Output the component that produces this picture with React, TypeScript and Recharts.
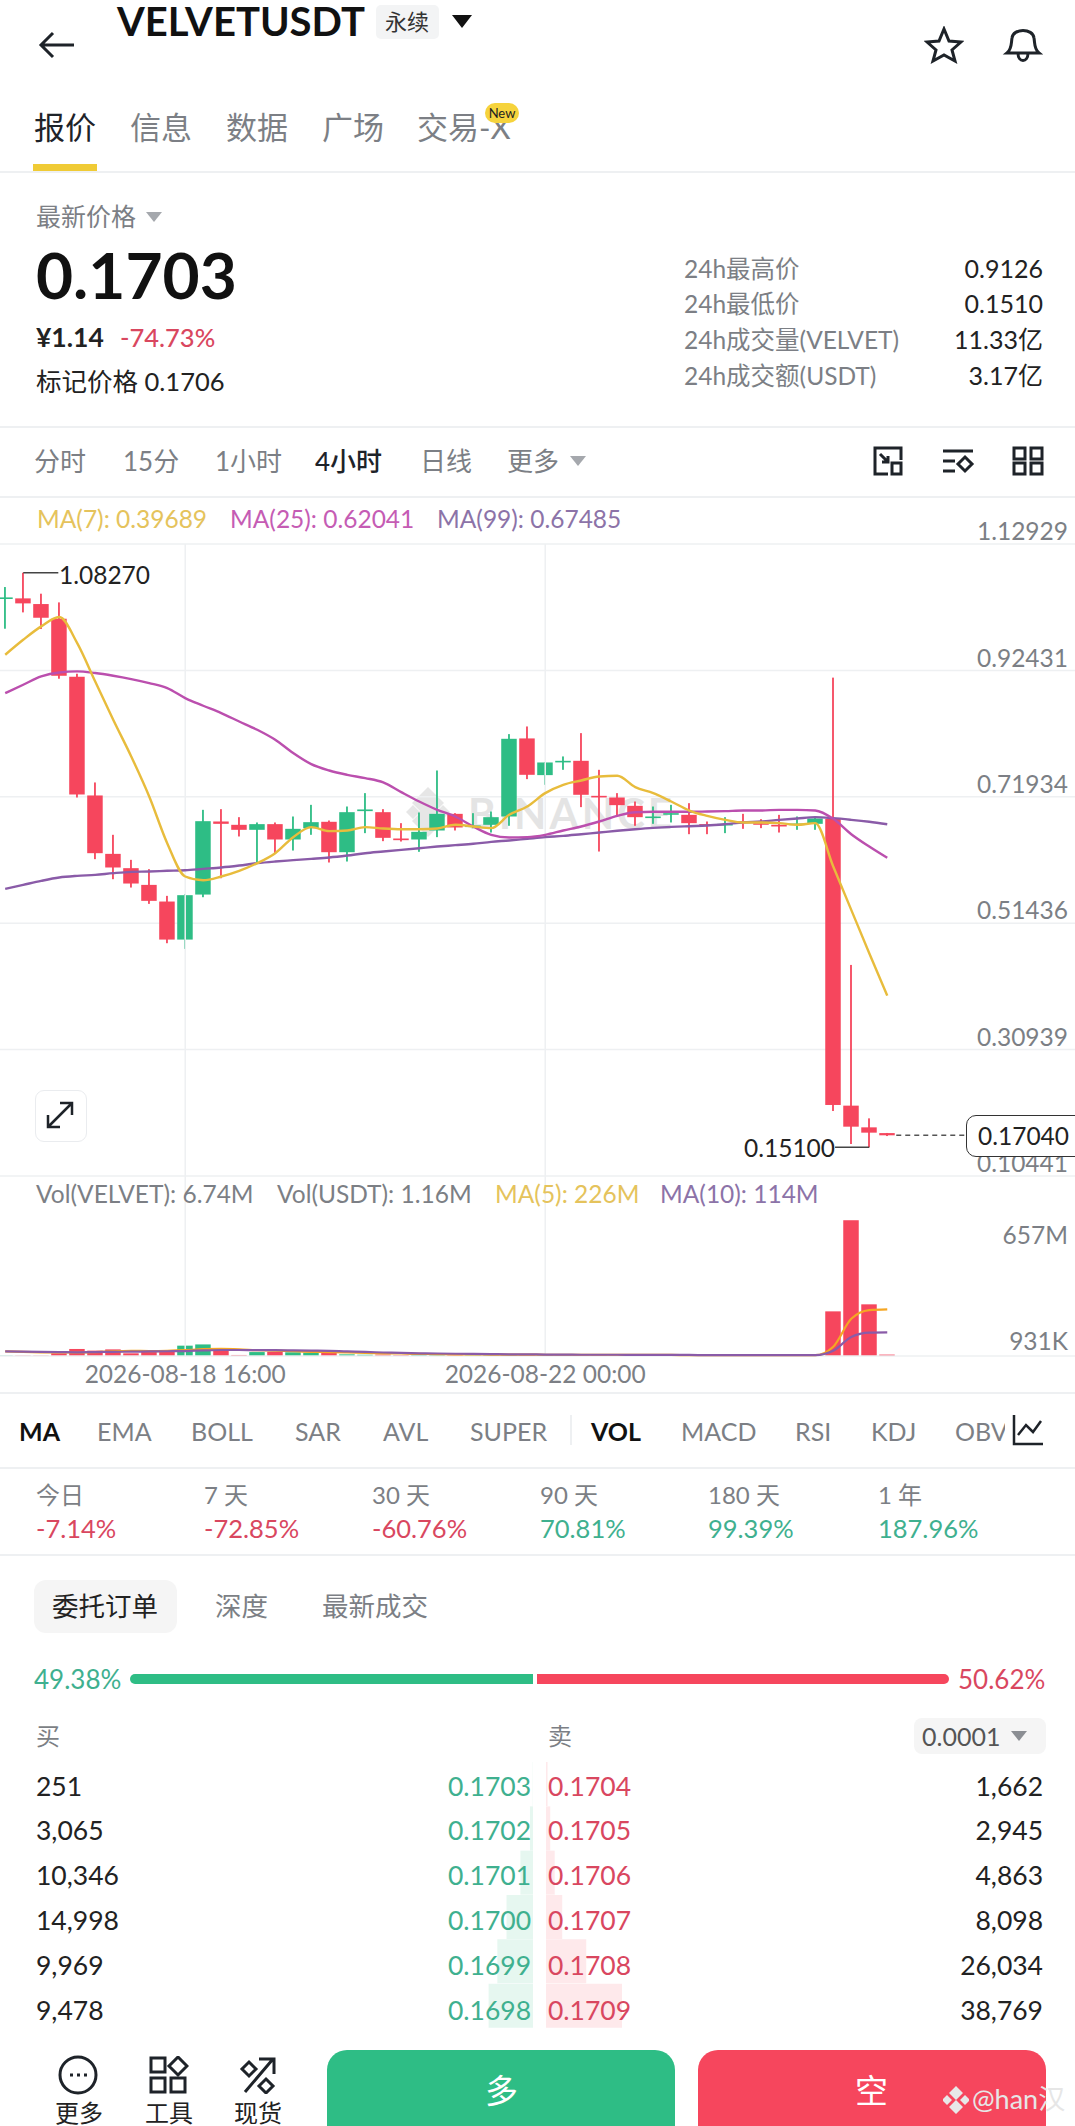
import type { CSSProperties, ReactNode } from "react";
import { Bar, BarChart, CartesianGrid, ComposedChart, Line, ReferenceLine, XAxis, YAxis } from "recharts";

const GREEN = "#2EBD85";
const RED = "#F6465D";
const GRID = "#EEF0F2";
const GREY = "#7c7f85";
const DARK = "#1e2329";
const FONT = 'Lato, "Noto Sans CJK SC", sans-serif';

const indices = Array.from({ length: 50 }, (_, i) => i);
const xDomain = [-0.289, 59.43];

const opens = [1.0411, 1.0411, 1.0319, 1.0081, 0.914, 0.7215, 0.6268, 0.6036, 0.5765, 0.5495, 0.4878, 0.5608, 0.6793, 0.6739, 0.6658, 0.675, 0.6501, 0.6685, 0.6788, 0.6295, 0.6961, 0.6944, 0.6517, 0.6501, 0.6647, 0.6917, 0.6712, 0.6739, 0.6874, 0.814, 0.7545, 0.7761, 0.7777, 0.7209, 0.7182, 0.7047, 0.6858, 0.6912, 0.6901, 0.675, 0.6728, 0.6793, 0.6766, 0.6739, 0.6744, 0.6755, 0.6836, 0.2185, 0.1833, 0.174];
const closes = [1.0427, 1.033, 1.0097, 0.9156, 0.7231, 0.6279, 0.6047, 0.5787, 0.5506, 0.4878, 0.5598, 0.6798, 0.6755, 0.6658, 0.675, 0.6501, 0.6674, 0.6782, 0.6295, 0.6944, 0.6988, 0.6528, 0.649, 0.6625, 0.6917, 0.6696, 0.6728, 0.6863, 0.8134, 0.755, 0.775, 0.7777, 0.7226, 0.7193, 0.7058, 0.6863, 0.6874, 0.6928, 0.6766, 0.6733, 0.6755, 0.6777, 0.675, 0.6712, 0.676, 0.6842, 0.2196, 0.1844, 0.1747, 0.1704];
const highs = [1.0595, 1.0827, 1.0487, 1.0346, 0.9189, 0.7426, 0.6577, 0.6171, 0.602, 0.5587, 0.5614, 0.6982, 0.6993, 0.6863, 0.6777, 0.6777, 0.6874, 0.7063, 0.6809, 0.7036, 0.7253, 0.6993, 0.6766, 0.6939, 0.762, 0.6928, 0.6928, 0.6955, 0.821, 0.8334, 0.7756, 0.7848, 0.8226, 0.7631, 0.7253, 0.7117, 0.7036, 0.7063, 0.709, 0.6793, 0.6863, 0.6917, 0.6831, 0.6901, 0.6874, 0.6874, 0.9126, 0.4467, 0.1979, 0.1742];
const lows = [0.9919, 1.0184, 0.9914, 0.9108, 0.7182, 0.6182, 0.5857, 0.5722, 0.5457, 0.4819, 0.4727, 0.5565, 0.5873, 0.655, 0.6117, 0.6279, 0.6322, 0.6577, 0.6128, 0.6144, 0.6604, 0.6474, 0.6468, 0.6301, 0.6539, 0.6647, 0.6685, 0.6614, 0.6723, 0.748, 0.7388, 0.7631, 0.7026, 0.6306, 0.6874, 0.6723, 0.6755, 0.6777, 0.6587, 0.6587, 0.6604, 0.6674, 0.6685, 0.6614, 0.6658, 0.6658, 0.2098, 0.1563, 0.151, 0.1692];

const ma7 = [0.9497, 0.974, 0.9957, 1.0108, 0.9686, 0.9064, 0.8443, 0.7848, 0.7199, 0.6441, 0.5901, 0.5841, 0.5901, 0.5993, 0.6117, 0.6279, 0.6539, 0.6701, 0.6636, 0.6647, 0.6701, 0.6679, 0.6668, 0.6668, 0.6679, 0.6739, 0.6712, 0.6685, 0.6901, 0.7036, 0.7253, 0.7388, 0.7458, 0.7523, 0.7534, 0.735, 0.7253, 0.7117, 0.6971, 0.6885, 0.682, 0.6777, 0.6777, 0.6766, 0.6739, 0.6766, 0.6063, 0.536, 0.4657, 0.39689];
const ma25 = [0.8875, 0.901, 0.9146, 0.921, 0.9227, 0.92, 0.9156, 0.9102, 0.9037, 0.8956, 0.8794, 0.867, 0.8551, 0.8415, 0.828, 0.8118, 0.7902, 0.7723, 0.762, 0.755, 0.7496, 0.7426, 0.7269, 0.7117, 0.6982, 0.6874, 0.6712, 0.6577, 0.6533, 0.6539, 0.6577, 0.6647, 0.6712, 0.6793, 0.6885, 0.6944, 0.695, 0.695, 0.695, 0.6955, 0.6961, 0.6971, 0.6971, 0.6982, 0.6982, 0.6971, 0.6836, 0.6587, 0.6387, 0.62041];
const ma99 = [0.57, 0.5765, 0.583, 0.5884, 0.5911, 0.5928, 0.5955, 0.5976, 0.5982, 0.5993, 0.6003, 0.6025, 0.6047, 0.6079, 0.6117, 0.6144, 0.6166, 0.6187, 0.6209, 0.6241, 0.6279, 0.6306, 0.6333, 0.636, 0.6387, 0.6409, 0.6431, 0.6463, 0.6485, 0.6512, 0.6539, 0.656, 0.6587, 0.6614, 0.6642, 0.6668, 0.669, 0.6706, 0.6717, 0.6728, 0.675, 0.6777, 0.6793, 0.682, 0.6842, 0.6863, 0.6847, 0.682, 0.6788, 0.67485];
const priceTicks = [1.12929, 0.92431, 0.71934, 0.51436, 0.30939, 0.10441];

// volume in millions
const volumes = [2, 2, 2, 13, 34, 26, 32, 13, 23, 23, 50, 56, 32, 5, 19, 21, 18, 16, 18, 8, 6, 7, 5, 6, 9, 7, 4, 5, 7, 6, 5, 4, 6, 7, 5, 6, 4, 3, 4, 3, 3, 3, 2, 3, 2, 3, 216, 657, 250, 6.74];
const volMa5 = [22, 20, 18, 17, 17, 19, 22, 25, 24, 25, 28, 33, 34, 32, 28, 26, 23, 20, 19, 17, 15, 13, 12, 10, 9, 8, 8, 7, 7, 7, 6, 6, 6, 6, 6, 5, 5, 5, 4, 4, 4, 4, 4, 4, 4, 4, 45, 180, 222, 226];
const volMa10 = [22, 21, 20, 19, 18, 19, 20, 21, 22, 23, 24, 27, 29, 29, 28, 28, 27, 26, 25, 22, 20, 17, 15, 13, 12, 11, 10, 9, 8, 8, 7, 7, 6, 6, 6, 5, 5, 5, 5, 4, 4, 4, 4, 4, 4, 4, 25, 92, 113, 114];
const dateTicks = [10, 30];
const dateLabels = ["2026-08-18 16:00", "2026-08-22 00:00"];

const buyQty = ["251", "3,065", "10,346", "14,998", "9,969", "9,478"];
const buyPrices = ["0.1703", "0.1702", "0.1701", "0.1700", "0.1699", "0.1698"];
const sellPrices = ["0.1704", "0.1705", "0.1706", "0.1707", "0.1708", "0.1709"];
const sellQty = ["1,662", "2,945", "4,863", "8,098", "26,034", "38,769"];
const buyDepth = [251, 3316, 13662, 28660, 38629, 48107];
const sellDepth = [1662, 4607, 9470, 17568, 43602, 82371];

const mainTabs = [["报价", 34], ["信息", 130], ["数据", 226], ["广场", 322], ["交易-X", 417]] as const;
const stats = [["24h最高价", "0.9126", 268], ["24h最低价", "0.1510", 303], ["24h成交量(VELVET)", "11.33亿", 339], ["24h成交额(USDT)", "3.17亿", 375]] as const;
const intervals = [["分时", 34], ["15分", 123], ["1小时", 215], ["4小时", 315], ["日线", 420], ["更多", 507]] as const;
const indicators = [["MA", 19], ["EMA", 97], ["BOLL", 191], ["SAR", 295], ["AVL", 383], ["SUPER", 470], ["VOL", 591], ["MACD", 681], ["RSI", 795], ["KDJ", 871], ["OBV", 955]] as const;
const periods = [["今日", "-7.14%", 36], ["7 天", "-72.85%", 204], ["30 天", "-60.76%", 372], ["90 天", "70.81%", 540], ["180 天", "99.39%", 708], ["1 年", "187.96%", 878]] as const;

const candles = indices.map((i) => ({
  i,
  open: opens[i],
  close: closes[i],
  high: highs[i],
  low: lows[i],
  ma7: ma7[i],
  ma25: ma25[i],
  ma99: ma99[i],
  vol: volumes[i],
  volMa5: volMa5[i],
  volMa10: volMa10[i],
}));
const depthRows = buyDepth.map((b, i) => ({ row: i, buy: b, sell: sellDepth[i] }));

function Candle(props: any) {
  const { x, y, width, height, payload } = props;
  const color = payload.close >= payload.open ? GREEN : RED;
  const perUnit = height / (payload.high - payload.low);
  const top = y + (payload.high - Math.max(payload.open, payload.close)) * perUnit;
  const bodyH = Math.max(Math.abs(payload.open - payload.close) * perUnit, 1.6);
  return (
    <g>
      <rect x={x + width / 2 - 0.9} y={y} width={1.8} height={height} fill={color} />
      <rect x={x} y={top} width={width} height={bodyH} fill={color} />
    </g>
  );
}

function VolumeBar(props: any) {
  const { x, y, width, height, payload } = props;
  return <rect x={x} y={y} width={width} height={height} fill={payload.close >= payload.open ? GREEN : RED} />;
}

function T(p: { x?: number; r?: number; y: number; s: number; c?: string; w?: number; children: ReactNode; style?: CSSProperties }) {
  return (
    <div
      style={{
        position: "absolute",
        left: p.x,
        right: p.r !== undefined ? 1075 - p.r : undefined,
        top: p.y - p.s,
        height: p.s * 2,
        lineHeight: `${p.s * 2}px`,
        fontSize: p.s,
        color: p.c ?? GREY,
        fontWeight: p.w ?? 400,
        whiteSpace: "nowrap",
        ...p.style,
      }}
    >
      {p.children}
    </div>
  );
}

const Rule = ({ y }: { y: number }) => <div style={{ position: "absolute", left: 0, width: 1075, top: y, height: 1.5, background: GRID }} />;
const Tri = ({ x, y, w, h, c }: { x: number; y: number; w: number; h: number; c: string }) => (
  <svg style={{ position: "absolute", left: x, top: y }} width={w} height={h}>
    <path d={`M0 0H${w}L${w / 2} ${h}Z`} fill={c} />
  </svg>
);
const Icon = ({ x, y, w, h, children }: { x: number; y: number; w: number; h: number; children: ReactNode }) => (
  <svg style={{ position: "absolute", left: x, top: y }} width={w} height={h} viewBox={`0 0 ${w} ${h}`} fill="none" stroke={DARK} strokeWidth={3}>
    {children}
  </svg>
);

function PriceTick(props: any) {
  const { y, payload } = props;
  return (
    <text x={1068} y={y - 10} textAnchor="end" dominantBaseline="middle" fontSize={24.5} fill={GREY} fontFamily={FONT}>
      {payload.value.toFixed(5)}
    </text>
  );
}

function VolumeTick(props: any) {
  const { y, payload } = props;
  const isTop = payload.value > 100;
  return (
    <text x={1068} y={isTop ? y + 18 : y - 12} textAnchor="end" dominantBaseline="middle" fontSize={24.5} fill={GREY} fontFamily={FONT}>
      {isTop ? "657M" : "931K"}
    </text>
  );
}

function DateTick(props: any) {
  const { x, payload } = props;
  return (
    <text x={x} y={201} textAnchor="middle" dominantBaseline="middle" fontSize={24.5} fill={GREY} fontFamily={FONT}>
      {dateLabels[dateTicks.indexOf(payload.value)]}
    </text>
  );
}

function PriceChart() {
  return (
    <div style={{ position: "absolute", left: 0, top: 500 }}>
      <ComposedChart width={1075} height={700} data={candles} margin={{ top: 44, right: 0, bottom: 24, left: 0 }}>
        <CartesianGrid vertical={false} stroke={GRID} strokeWidth={1.5} />
        <XAxis dataKey="i" type="number" domain={xDomain} allowDataOverflow hide />
        <YAxis
          orientation="right"
          mirror
          width={100}
          type="number"
          domain={[priceTicks[5], priceTicks[0]]}
          ticks={priceTicks}
          interval={0}
          axisLine={false}
          tickLine={false}
          tick={<PriceTick />}
        />
        {dateTicks.map((t) => (
          <ReferenceLine key={t} x={t} stroke={GRID} strokeWidth={1.5} />
        ))}
        <Bar dataKey={(d: any) => [d.low, d.high]} barSize={15.5} shape={<Candle />} isAnimationActive={false} />
        <Line dataKey="ma99" type="monotone" stroke="#8A5BA8" strokeWidth={2.4} dot={false} isAnimationActive={false} />
        <Line dataKey="ma25" type="monotone" stroke="#BB4FAE" strokeWidth={2.4} dot={false} isAnimationActive={false} />
        <Line dataKey="ma7" type="monotone" stroke="#E8BC3C" strokeWidth={2.4} dot={false} isAnimationActive={false} />
        <ReferenceLine segment={[{ x: 1, y: 1.0827 }, { x: 2.95, y: 1.0827 }]} stroke="#444" strokeWidth={1.5} />
        <ReferenceLine segment={[{ x: 46.1, y: 0.151 }, { x: 48, y: 0.151 }]} stroke="#444" strokeWidth={1.5} />
        <ReferenceLine segment={[{ x: 49.5, y: 0.1704 }, { x: 53.4, y: 0.1704 }]} stroke="#555" strokeWidth={1.5} strokeDasharray="5 4" />
      </ComposedChart>
    </div>
  );
}

function VolumeChart() {
  return (
    <div style={{ position: "absolute", left: 0, top: 1176 }}>
      <ComposedChart width={1075} height={217} data={candles} margin={{ top: 0, right: 0, bottom: 0, left: 0 }}>
        <XAxis dataKey="i" type="number" domain={xDomain} allowDataOverflow ticks={dateTicks} interval={0} axisLine={false} tickLine={false} height={37} tick={<DateTick />} />
        <YAxis
          orientation="right"
          mirror
          width={100}
          type="number"
          domain={[0, 871]}
          ticks={[0.931, 657]}
          interval={0}
          axisLine={false}
          tickLine={false}
          tick={<VolumeTick />}
        />
        {dateTicks.map((t) => (
          <ReferenceLine key={t} x={t} stroke={GRID} strokeWidth={1.5} />
        ))}
        <ReferenceLine y={0} stroke={GRID} strokeWidth={1.5} />
        <Bar dataKey="vol" barSize={15.5} shape={<VolumeBar />} isAnimationActive={false} />
        <Line dataKey="volMa5" type="monotone" stroke="#F5A623" strokeWidth={2.2} dot={false} isAnimationActive={false} />
        <Line dataKey="volMa10" type="monotone" stroke="#8A5BA8" strokeWidth={2.2} dot={false} isAnimationActive={false} />
      </ComposedChart>
    </div>
  );
}

function RatioBar() {
  return (
    <div style={{ position: "absolute", left: 130, top: 1674 }}>
      <BarChart width={819} height={10} layout="vertical" data={[{ name: "ratio", buy: 49.38, sell: 50.62 }]} margin={{ top: 0, right: 0, bottom: 0, left: 0 }} barCategoryGap={0}>
        <XAxis type="number" domain={[0, 100]} hide />
        <YAxis type="category" dataKey="name" hide />
        <Bar dataKey="buy" stackId="r" fill={GREEN} radius={[5, 0, 0, 5]} isAnimationActive={false} />
        <Bar dataKey="sell" stackId="r" fill={RED} radius={[0, 5, 5, 0]} isAnimationActive={false} />
      </BarChart>
      <div style={{ position: "absolute", left: 403, top: 0, width: 4, height: 10, background: "#fff" }} />
    </div>
  );
}

function DepthBars() {
  return (
    <>
      <div style={{ position: "absolute", left: 433, top: 1762 }}>
        <BarChart width={100} height={266} layout="vertical" data={depthRows} margin={{ top: 0, right: 0, bottom: 0, left: 0 }} barCategoryGap={0}>
          <XAxis type="number" domain={[0, 108350]} reversed hide />
          <YAxis type="category" dataKey="row" hide />
          <Bar dataKey="buy" fill="rgba(46,189,133,0.12)" isAnimationActive={false} />
        </BarChart>
      </div>
      <div style={{ position: "absolute", left: 546, top: 1762 }}>
        <BarChart width={100} height={266} layout="vertical" data={depthRows} margin={{ top: 0, right: 0, bottom: 0, left: 0 }} barCategoryGap={0}>
          <XAxis type="number" domain={[0, 108350]} hide />
          <YAxis type="category" dataKey="row" hide />
          <Bar dataKey="sell" fill="rgba(246,70,93,0.12)" isAnimationActive={false} />
        </BarChart>
      </div>
    </>
  );
}

function Header() {
  return (
    <>
      <Icon x={38} y={30} w={38} h={30}>
        <path d="M36 15H4M15 3L3 15L15 27" />
      </Icon>
      <T x={117} y={21} s={40} c="#111" w={700} style={{ top: 0, height: 42, lineHeight: "42px" }}>VELVETUSDT</T>
      <div style={{ position: "absolute", left: 376, top: 5, width: 63, height: 34, background: "#f3f4f5", borderRadius: 5 }} />
      <T x={385} y={22} s={22} c="#333">永续</T>
      <Tri x={452} y={15} w={20} h={13} c="#111" />
      <Icon x={924} y={26} w={40} h={38}>
        <path d="M20 3L25 15L37 16L28 24L31 35L20 29L9 35L12 24L3 16L15 15Z" />
      </Icon>
      <Icon x={1002} y={24} w={42} h={40}>
        <path d="M5 29C10 25 9 20 10 14C11 4 31 4 32 14C33 20 32 25 37 29ZM16 29C16 39 26 39 26 29" />
      </Icon>

      {mainTabs.map(([label, x], i) => (
        <T key={label} x={x} y={127} s={31} c={i === 0 ? "#1e2329" : GREY}>{label}</T>
      ))}
      <div style={{ position: "absolute", left: 485, top: 103, width: 34, height: 20, background: "#F6D33C", borderRadius: 10, textAlign: "center", fontSize: 13, lineHeight: "20px", color: "#222" }}>New</div>
      <div style={{ position: "absolute", left: 33, top: 164, width: 64, height: 7, background: "#F0CB35" }} />
      <Rule y={171} />

      <T x={36} y={216} s={25}>最新价格</T>
      <Tri x={146} y={212} w={16} h={10} c="#a5a8ad" />
      <T x={36} y={275} s={64} c="#111" w={700}>0.1703</T>
      <T x={36} y={337} s={26.5} c="#222" w={700}>¥1.14</T>
      <T x={120} y={337} s={25.5} c="#D9475F" w={500}>-74.73%</T>
      <T x={36} y={381} s={25.5} c="#222">标记价格 0.1706</T>
      {stats.map(([label, value, y]) => (
        <div key={label}>
          <T x={684} y={y} s={24.5}>{label}</T>
          <T r={1043} y={y} s={25} c="#222">{value}</T>
        </div>
      ))}
      <Rule y={426} />

      {intervals.map(([label, x], i) => (
        <T key={label} x={x} y={461} s={26} c={i === 3 ? "#1e2329" : GREY} w={i === 3 ? 500 : 400}>{label}</T>
      ))}
      <Tri x={570} y={456} w={16} h={10} c="#a5a8ad" />
      <Icon x={872} y={446} w={32} h={30}>
        <path d="M16 28H3V2H29V14M8 8L16 16M10 16H16V10" />
        <rect x={20} y={17} width={9} height={11} />
      </Icon>
      <Icon x={941} y={446} w={34} h={30}>
        <path d="M2 5H32M2 15H14M2 25H14" />
        <path d="M24 11L31 18L24 25L17 18Z" />
      </Icon>
      <Icon x={1012} y={446} w={32} h={30}>
        <rect x={2} y={2} width={11} height={11} />
        <rect x={19} y={2} width={11} height={11} />
        <rect x={2} y={17} width={11} height={11} />
        <rect x={19} y={17} width={11} height={11} />
      </Icon>
      <Rule y={496} />

      <T x={37} y={518} s={24.5} c="#E5C35C">MA(7): 0.39689</T>
      <T x={230} y={518} s={24.5} c="#C55CB4">MA(25): 0.62041</T>
      <T x={437} y={518} s={24.5} c="#8C73A8">MA(99): 0.67485</T>
    </>
  );
}

function Watermark() {
  return (
    <>
      <svg style={{ position: "absolute", left: 406, top: 787 }} width={44} height={50}>
        <path d="M22 0L38 16L30 24L22 16L14 24L6 16ZM0 25L7 18L14 25L7 32ZM44 25L37 18L30 25L37 32ZM22 16L31 25L22 34L13 25ZM6 34L14 26L22 34L30 26L38 34L22 50Z" fill="#e6e6e6" />
      </svg>
      <T x={468} y={813} s={42} c="#e4e4e4" w={700} style={{ letterSpacing: 3 }}>BINANCE</T>
    </>
  );
}

function ChartNotes() {
  return (
    <>
      <T x={59} y={574} s={24.5} c="#222">1.08270</T>
      <T x={744} y={1147} s={24.5} c="#222">0.15100</T>
      <div style={{ position: "absolute", left: 966, top: 1115, width: 120, height: 40, border: "1.5px solid #333", borderRadius: 10, background: "#fff", fontSize: 24.5, lineHeight: "40px", paddingLeft: 11, color: "#222" }}>0.17040</div>
      <div style={{ position: "absolute", left: 35, top: 1090, width: 50, height: 50, border: "1.5px solid #eaecef", borderRadius: 9, background: "#fff" }} />
      <Icon x={44} y={1099} w={32} h={32}>
        <path d="M4 28L28 4M16 4H28V16M4 16V28H16" strokeWidth={2.5} />
      </Icon>
    </>
  );
}

function Lower() {
  return (
    <>
      <T x={36} y={1193} s={24.5}>Vol(VELVET): 6.74M</T>
      <T x={277} y={1193} s={24.5}>Vol(USDT): 1.16M</T>
      <T x={495} y={1193} s={24.5} c="#E5C35C">MA(5): 226M</T>
      <T x={660} y={1193} s={24.5} c="#8C73A8">MA(10): 114M</T>
      <Rule y={1392} />

      {indicators.map(([label, x]) => (
        <T key={label} x={x} y={1431} s={25} c={label === "MA" || label === "VOL" ? "#111" : GREY} w={label === "MA" || label === "VOL" ? 700 : 400}>{label}</T>
      ))}
      <div style={{ position: "absolute", left: 570, top: 1415, width: 1.5, height: 30, background: GRID }} />
      <div style={{ position: "absolute", left: 1005, top: 1410, width: 70, height: 40, background: "#fff" }} />
      <Icon x={1012} y={1413} w={32} h={33}>
        <path d="M2 2V31H31M6 22L14 12L21 19L29 8" strokeWidth={2.5} />
      </Icon>
      <Rule y={1467} />

      {periods.map(([label, value, x]) => (
        <div key={label}>
          <T x={x} y={1495} s={24}>{label}</T>
          <T x={x} y={1528} s={25.5} c={value.startsWith("-") ? "#D9475F" : "#3FB08F"}>{value}</T>
        </div>
      ))}
      <Rule y={1554} />

      <div style={{ position: "absolute", left: 34, top: 1580, width: 143, height: 53, background: "#f5f5f5", borderRadius: 12 }} />
      <T x={52} y={1606} s={26.5} c="#222">委托订单</T>
      <T x={215} y={1606} s={26.5}>深度</T>
      <T x={322} y={1606} s={26.5}>最新成交</T>

      <T x={34} y={1679} s={26} c="#3FB08F">49.38%</T>
      <RatioBar />
      <T x={958} y={1679} s={26} c="#D9475F">50.62%</T>

      <T x={36} y={1736} s={24}>买</T>
      <T x={548} y={1736} s={24}>卖</T>
      <div style={{ position: "absolute", left: 914, top: 1718, width: 132, height: 36, background: "#f5f5f5", borderRadius: 8 }} />
      <T x={922} y={1736} s={25} c="#555">0.0001</T>
      <Tri x={1011} y={1731} w={16} h={10} c="#8b8e93" />

      <DepthBars />
      {buyQty.map((q, i) => {
        const y = 1786 + i * 44.9;
        return (
          <div key={q}>
            <T x={36} y={y} s={26.5} c="#222">{q}</T>
            <T r={531} y={y} s={26.5} c="#3FB08F">{buyPrices[i]}</T>
            <T x={548} y={y} s={26.5} c="#D9475F">{sellPrices[i]}</T>
            <T r={1043} y={y} s={26.5} c="#222">{sellQty[i]}</T>
          </div>
        );
      })}

      <Icon x={58} y={2055} w={40} h={40}>
        <circle cx={20} cy={20} r={18} />
        <path d="M12 20h3M19 20h3M26 20h3" />
      </Icon>
      <Icon x={149} y={2056} w={40} h={38}>
        <rect x={2} y={2} width={14} height={14} />
        <path d="M29 1L38 10L29 19L20 10Z" />
        <rect x={2} y={22} width={14} height={14} />
        <rect x={22} y={22} width={14} height={14} />
      </Icon>
      <Icon x={239} y={2056} w={38} h={38}>
        <path d="M6 36L34 3M20 3H35V18M10 6L17 13L10 20L3 13ZM27 23L34 30L27 37L20 30Z" />
      </Icon>
      <T x={55} y={2113} s={24} c="#222">更多</T>
      <T x={145} y={2113} s={24} c="#222">工具</T>
      <T x={234} y={2113} s={24} c="#222">现货</T>

      <div style={{ position: "absolute", left: 327, top: 2050, width: 348, height: 76, background: GREEN, borderRadius: "20px 20px 0 0" }} />
      <div style={{ position: "absolute", left: 698, top: 2050, width: 348, height: 76, background: RED, borderRadius: "20px 20px 0 0" }} />
      <T x={485} y={2090} s={33} c="#fff">多</T>
      <T x={855} y={2090} s={33} c="#fff">空</T>
      <svg style={{ position: "absolute", left: 943, top: 2086 }} width={26} height={28}>
        <path d="M13 0L20 7L13 14L6 7ZM4 9L9 14L4 19L-1 14ZM22 9L27 14L22 19L17 14ZM13 14L20 21L13 28L6 21Z" fill="#e8e8e8" />
      </svg>
      <T x={972} y={2099} s={27} c="#e6e6e6">@han汉</T>
    </>
  );
}

export default function App() {
  return (
    <div style={{ position: "relative", width: 1075, height: 2126, overflow: "hidden", background: "#fff", fontFamily: FONT }}>
      <style>{"body{margin:0}"}</style>
      <Header />
      <Watermark />
      <PriceChart />
      <VolumeChart />
      <ChartNotes />
      <Lower />
    </div>
  );
}
